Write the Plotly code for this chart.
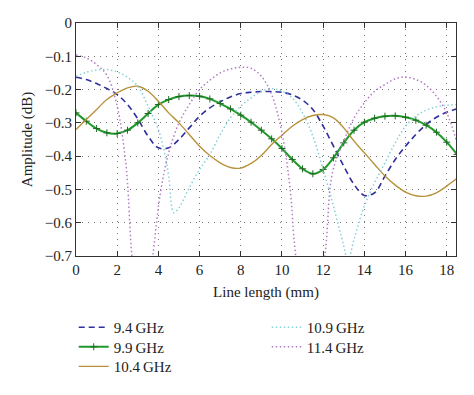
import plotly.graph_objects as go

# Line length (mm) sample positions
x_half = [0, 0.5, 1, 1.5, 2, 2.5, 3, 3.5, 4, 4.5, 5, 5.5, 6, 6.5, 7, 7.5, 8, 8.5, 9, 9.5,
          10, 10.5, 11, 11.5, 12, 12.5, 13, 13.5, 14, 14.5, 15, 15.5, 16, 16.5, 17, 17.5, 18, 18.5]

# 9.4 GHz
y_94 = [-0.163, -0.170, -0.182, -0.197, -0.215, -0.245, -0.288, -0.340, -0.375, -0.375,
        -0.350, -0.315, -0.280, -0.255, -0.237, -0.222, -0.212, -0.208, -0.206, -0.206,
        -0.208, -0.216, -0.232, -0.260, -0.310, -0.370, -0.430, -0.485, -0.518, -0.510,
        -0.460, -0.410, -0.370, -0.335, -0.305, -0.283, -0.268, -0.258]

# 9.9 GHz
y_99 = [-0.270, -0.295, -0.317, -0.330, -0.332, -0.322, -0.300, -0.272, -0.245, -0.230,
        -0.221, -0.218, -0.220, -0.228, -0.242, -0.258, -0.277, -0.298, -0.322, -0.348,
        -0.377, -0.410, -0.438, -0.453, -0.440, -0.405, -0.360, -0.322, -0.298, -0.286,
        -0.280, -0.279, -0.283, -0.292, -0.307, -0.328, -0.358, -0.395]

# 10.4 GHz
y_104 = [-0.320, -0.290, -0.260, -0.230, -0.210, -0.195, -0.190, -0.205, -0.235, -0.270,
         -0.300, -0.335, -0.370, -0.398, -0.420, -0.434, -0.436, -0.422, -0.398, -0.365,
         -0.337, -0.310, -0.290, -0.278, -0.275, -0.285, -0.315, -0.355, -0.390, -0.425,
         -0.460, -0.487, -0.508, -0.519, -0.520, -0.510, -0.490, -0.467]

# 10.9 GHz
x_109 = [0, 0.5, 1, 1.5, 2, 2.5, 3, 3.5, 4, 4.3, 4.5, 4.75, 5, 5.5, 6, 6.5, 7, 7.5, 8, 8.5,
         9, 9.5, 10, 10.5, 11, 11.5, 12, 12.5, 13, 13.2, 13.5, 14, 14.5, 15, 15.5, 16, 16.5,
         17, 17.5, 18, 18.5]
y_109 = [-0.160, -0.148, -0.141, -0.140, -0.147, -0.163, -0.190, -0.250, -0.320, -0.390,
         -0.460, -0.570, -0.555, -0.495, -0.440, -0.395, -0.335, -0.285, -0.250, -0.225,
         -0.205, -0.197, -0.205, -0.225, -0.270, -0.340, -0.440, -0.550, -0.670, -0.715,
         -0.650, -0.550, -0.480, -0.420, -0.360, -0.310, -0.280, -0.262, -0.252, -0.247,
         -0.245]

# 11.4 GHz
x_114 = [0, 0.5, 1, 1.5, 2, 2.38, 2.5, 2.7, 3.2, 3.75, 4.1, 4.5, 5, 5.5, 6, 6.5, 7, 7.5, 8,
         8.5, 9, 9.5, 10, 10.4, 10.65, 11.4, 12.1, 12.45, 13, 13.5, 14, 14.5, 15, 15.5, 16,
         16.5, 17, 17.5, 18, 18.5]
y_114 = [-0.096, -0.105, -0.125, -0.157, -0.250, -0.400, -0.480, -0.690, -1.000, -0.690,
         -0.510, -0.390, -0.300, -0.245, -0.200, -0.172, -0.150, -0.138, -0.133, -0.136,
         -0.160, -0.215, -0.330, -0.500, -0.690, -1.000, -0.690, -0.450, -0.355, -0.285,
         -0.240, -0.205, -0.185, -0.168, -0.162, -0.170, -0.187, -0.220, -0.270, -0.360]

x_ticks = [0, 2, 4, 6, 8, 10, 12, 14, 16, 18]
y_ticks = [0, -0.1, -0.2, -0.3, -0.4, -0.5, -0.6, -0.7]
y_ticktext = ["0", "\u22120.1", "\u22120.2", "\u22120.3", "\u22120.4", "\u22120.5", "\u22120.6", "\u22120.7"]

FONT = "Liberation Serif"
TS = "\u2009"

fig = go.Figure()
fig.add_trace(go.Scatter(x=x_half, y=y_94, mode="lines", name="9.4" + TS + "GHz",
                         line=dict(color="#2e2e9e", width=1.6, dash="6px,4px", shape="spline"),
                         legend="legend"))
fig.add_trace(go.Scatter(x=x_half, y=y_99, mode="lines+markers", name="9.9" + TS + "GHz",
                         line=dict(color="#1f9a2a", width=2.0, shape="spline"),
                         marker=dict(symbol="cross-thin", size=5, color="#1f6a22",
                                     line=dict(width=1, color="#1f6a22")),
                         legend="legend2"))
fig.add_trace(go.Scatter(x=x_half, y=y_104, mode="lines", name="10.4" + TS + "GHz",
                         line=dict(color="#b8923a", width=1.4, shape="spline"),
                         legend="legend3"))
fig.add_trace(go.Scatter(x=x_109, y=y_109, mode="lines", name="10.9" + TS + "GHz",
                         line=dict(color="#88d0d8", width=1.5, dash="1.5px,2.5px", shape="spline"),
                         legend="legend4"))
fig.add_trace(go.Scatter(x=x_114, y=y_114, mode="lines", name="11.4" + TS + "GHz",
                         line=dict(color="#b47cc4", width=1.5, dash="1.5px,2.5px", shape="spline"),
                         legend="legend5"))

axis_common = dict(
    showline=True, linecolor="#333333", linewidth=1.2, mirror="ticks",
    ticks="inside", ticklen=5, tickcolor="#333333",
    showgrid=True, gridcolor="#777777", griddash="1px,5px", gridwidth=1,
    zeroline=False, automargin=False,
    tickfont=dict(family=FONT, size=15, color="#222222"),
)

# page body has an 8px margin; plot area targets x 76..456, y 23..261 in the window
PB, PT = 261, 23

def leg(xp, row_px):
    return dict(x=xp, y=(PB - row_px) / (PB - PT), xanchor="left", yanchor="middle",
                font=dict(family=FONT, size=15, color="#222222"), bgcolor="rgba(0,0,0,0)",
                itemwidth=30, borderwidth=0)

col1 = -0.006
col2 = 0.502

fig.update_layout(
    width=466, height=387,
    margin=dict(l=68, r=18, t=15, b=134),
    paper_bgcolor="white", plot_bgcolor="white",
    font=dict(family=FONT, size=15, color="#222222"),
    xaxis=dict(range=[0, 18.45], tickvals=x_ticks,
               title=dict(text="Line length (mm)", font=dict(family=FONT, size=15), standoff=9),
               **axis_common),
    yaxis=dict(range=[-0.7, 0], tickvals=y_ticks, ticktext=y_ticktext,
               title=dict(text="Amplitude (dB)", font=dict(family=FONT, size=15), standoff=8),
               **axis_common),
    legend=leg(col1, 334),
    legend2=leg(col1, 354),
    legend3=leg(col1, 374),
    legend4=leg(col2, 334),
    legend5=leg(col2, 354),
    showlegend=True,
)

fig.write_html("out.html")
